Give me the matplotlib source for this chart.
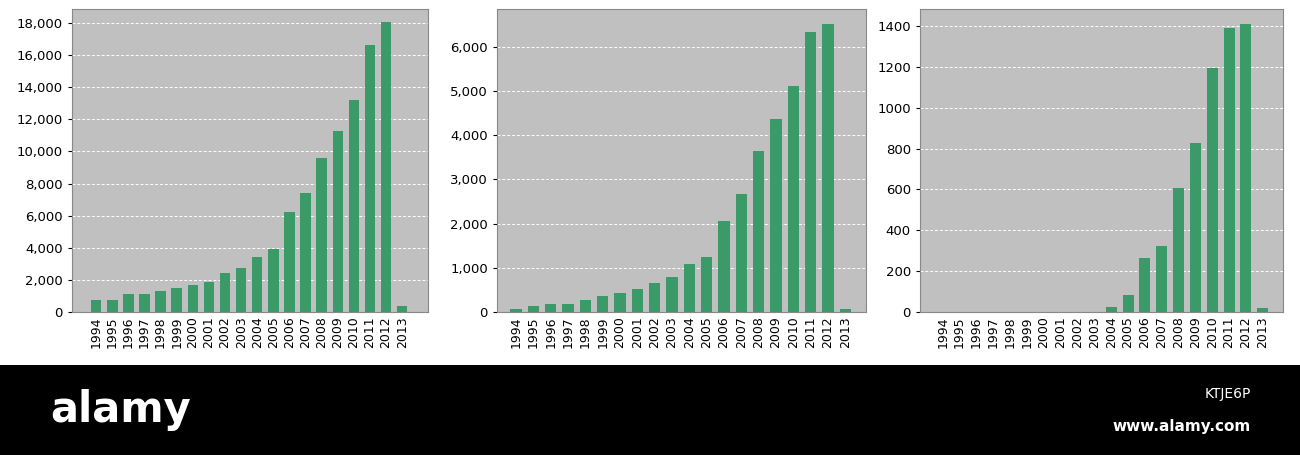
import matplotlib
matplotlib.use("Agg")
import matplotlib.pyplot as plt
from matplotlib.ticker import FuncFormatter, MultipleLocator

years = [str(y) for y in range(1994, 2014)]
s1 = [750,750,1120,1120,1300,1480,1680,1850,2400,2750,3400,3950,6200,7400,9600,11300,13200,16600,18050,380]
s2 = [60,140,190,190,270,360,430,520,650,790,1080,1240,2050,2680,3640,4370,5120,6330,6530,60]
s3 = [0,0,0,0,0,0,0,0,0,0,25,85,265,325,605,825,1195,1390,1410,20]

W, H = 1300, 455
fig = plt.figure(figsize=(W/100, H/100), dpi=100)
fig.patch.set_facecolor("white")
green = "#3a9a68"
specs = [(72, 428, s1, 18870, 2000, True, 1.5, 1.6),
         (497, 866, s2, 6860, 1000, True, 1.1, 1.2),
         (920, 1283, s3, 1483, 200, False, 1.35, 1.2)]
for x0, x1, data, top, step, comma, lp, rp in specs:
    ax = fig.add_axes([x0/W, 1-312/H, (x1-x0)/W, (312-9)/H])
    ax.set_facecolor("#c0c0c0")
    ax.bar(range(len(years)), data, width=0.65, color=green, zorder=3)
    ax.set_xlim(-lp, len(years)-1+rp)
    ax.set_ylim(0, top)
    ax.yaxis.set_major_locator(MultipleLocator(step))
    if comma:
        ax.yaxis.set_major_formatter(FuncFormatter(lambda v, p: f"{int(v):,}"))
    else:
        ax.yaxis.set_major_formatter(FuncFormatter(lambda v, p: f"{int(v)}"))
    ax.grid(axis="y", color="white", linestyle=(0, (3, 2)), linewidth=0.7, zorder=1)
    ax.set_xticks(range(len(years)))
    ax.set_xticklabels(years, rotation=90, fontsize=9)
    ax.tick_params(axis="y", labelsize=9.5, length=3)
    ax.tick_params(axis="x", length=0, pad=3)
    for s in ax.spines.values():
        s.set_color("#888888")

band = fig.add_axes([0, 0, 1, 90/H])
band.set_facecolor("black")
band.set_xticks([]); band.set_yticks([])
for s in band.spines.values():
    s.set_visible(False)
band.text(50/W, 0.5, "alamy", color="white", fontsize=30, fontweight="bold",
          va="center", ha="left", transform=band.transAxes, family="Liberation Sans Narrow")
band.text(0.962, 0.68, "KTJE6P", color="white", fontsize=10, ha="right", va="center", transform=band.transAxes)
band.text(0.962, 0.32, "www.alamy.com", color="white", fontsize=11, fontweight="bold", ha="right", va="center", transform=band.transAxes)

fig.savefig("out.png", dpi=100)
